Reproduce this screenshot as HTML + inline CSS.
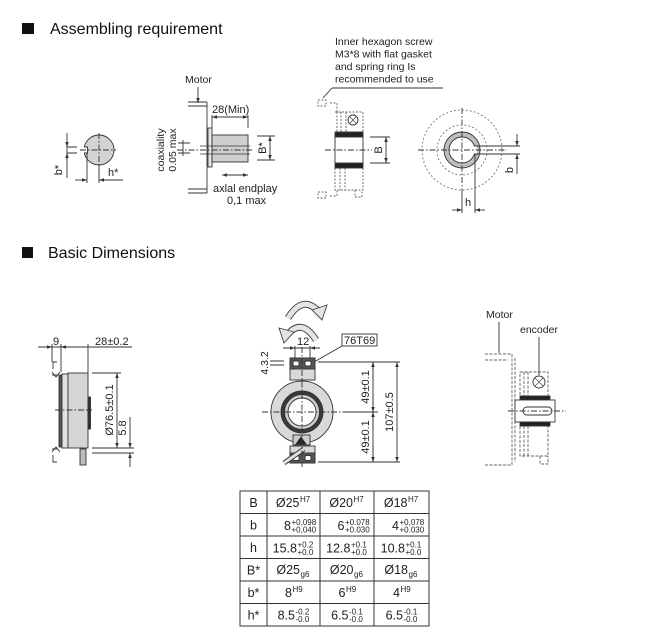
<!DOCTYPE html>
<html><head><meta charset="utf-8"><style>
html,body{margin:0;padding:0;background:#fff;}
svg{display:block;}
text{font-family:"Liberation Sans",Arial,sans-serif;fill:#222;}
</style></head><body>
<svg width="650" height="633" viewBox="0 0 650 633" xmlns="http://www.w3.org/2000/svg">
<defs>
<marker id="ar" viewBox="0 0 10 10" refX="10" refY="5" markerWidth="5" markerHeight="5" orient="auto-start-reverse" markerUnits="userSpaceOnUse"><path d="M0,1.5 L10,5 L0,8.5z" fill="#333"/></marker>
</defs>

<!-- Titles -->
<rect x="22" y="23" width="12" height="11" fill="#111"/>
<text x="50" y="34" font-size="16" style="fill:#111">Assembling requirement</text>
<rect x="22" y="247" width="11" height="11" fill="#111"/>
<text x="48" y="258" font-size="16" style="fill:#111">Basic Dimensions</text>

<g stroke="#333" stroke-width="0.9" fill="none">
<!-- ===== Section 1 left: shaft cross-section ===== -->
<circle cx="99" cy="150" r="15" fill="#d3d3d3"/>
<rect x="83.5" y="147" width="4" height="6" fill="#fff" stroke="none"/>
<path d="M84 147 H87.5 V153 H84"/>
<path d="M80 150 H116" stroke-dasharray="6 2 1.5 2"/>
<path d="M99 133 V181" stroke-dasharray="6 2 1.5 2"/>
<path d="M67 133 V178"/>
<path d="M67 147 H77 M67 153 H77"/>
<path d="M67 140 V147" marker-end="url(#ar)"/>
<path d="M67 160 V153" marker-end="url(#ar)"/>
<path d="M87 153 V183 M99 165 V183"/>
<path d="M75 180 H87" marker-end="url(#ar)"/>
<path d="M123 180 H99" marker-end="url(#ar)"/>

<!-- ===== Section 1 middle: motor + shaft ===== -->
<path d="M198 87 V103" marker-end="url(#ar)"/>
<path d="M188 102 H207 M188 106 H207 M207 102 V193 M188 189 H207 M188 193 H207"/>
<rect x="208" y="128" width="4" height="39" fill="#e8e8e8"/>
<rect x="212" y="135" width="36" height="27" fill="#cfcfcf"/>
<path d="M200 146 H250 M200 154 H250" stroke-width="0.7"/>
<path d="M177 150 H252" stroke-dasharray="6 2 1.5 2"/>
<path d="M178 143 H190 M178 153 H190 M183 140 V156"/>
<path d="M212 115 V128 M248 115 V128"/>
<path d="M212 117 H248" marker-start="url(#ar)" marker-end="url(#ar)"/>
<path d="M257 136 H275 M257 160 H275"/>
<path d="M270 136 V160" marker-start="url(#ar)" marker-end="url(#ar)"/>
<path d="M222 175 H248" marker-start="url(#ar)" marker-end="url(#ar)"/>

<!-- ===== Section 1 right: side view ===== -->
<path d="M332 88 H443 M332 88 L323 98"/>
<g stroke-dasharray="2 1.5" stroke-width="0.7">
<path d="M335 112 H363 V132 M337 112 V132 M341 112 V132 M346 112 V132"/>
<path d="M335 168 V190 H363 V168 M340 168 V190 M345 168 V190"/>
<path d="M330 103 H337 V112 M318 100 H326 V106 H318z"/>
<path d="M330 196 H337 V190 M318 192 H326 V198 H318z"/>
<path d="M355 190 V197 H362 V190"/>
</g>
<circle cx="353" cy="120" r="5"/>
<path d="M350 117 L356 123 M356 117 L350 123" stroke-width="0.6"/>
<rect x="335" y="132" width="28" height="5" fill="#222"/>
<rect x="335" y="163" width="28" height="5" fill="#222"/>
<path d="M335 137 V163 M363 137 V163"/>
<path d="M325 150 H372" stroke-dasharray="6 2 1.5 2"/>
<path d="M370 137 H390 M370 163 H390"/>
<path d="M386 137 V163" marker-start="url(#ar)" marker-end="url(#ar)"/>

<!-- front view hollow -->
<circle cx="462" cy="150" r="40" stroke="#777" stroke-dasharray="2 2"/>
<circle cx="462" cy="150" r="25" stroke="#777" stroke-dasharray="2 2"/>
<circle cx="462" cy="150" r="15.5" stroke="#bdbdbd" stroke-width="5"/>
<circle cx="462" cy="150" r="18"/>
<circle cx="462" cy="150" r="13"/>
<rect x="473" y="146" width="4" height="8" fill="#fff" stroke="none"/>
<path d="M474 146 H520 M474 154 H520"/>
<path d="M418 150 H507 M462 108 V193" stroke-dasharray="6 2 1.5 2"/>
<path d="M517 134 V146" marker-end="url(#ar)"/>
<path d="M517 174 V154" marker-end="url(#ar)"/>
<path d="M475 154 V213 M462 193 V213"/>
<path d="M452 210 H462" marker-end="url(#ar)"/>
<path d="M485 210 H475" marker-end="url(#ar)"/>

<!-- ===== Section 2 left: side view ===== -->
<path d="M38 347 H132"/>
<path d="M44 347 H52" marker-end="url(#ar)"/>
<path d="M70 347 H61" marker-end="url(#ar)"/>
<path d="M52 344 V362 M61 344 V372 M88 344 V373"/>
<rect x="59" y="375" width="3" height="72" fill="#555"/>
<rect x="62" y="374" width="6" height="74" fill="#e2e2e2"/>
<rect x="68" y="373" width="20" height="75" fill="#d5d5d5"/>
<rect x="88" y="397" width="2.5" height="32" fill="#333"/>
<path d="M57 362 H53 V369 M52 372 L56 377 L60 372 M52 375 H58"/>
<path d="M57 462 H53 V455 M52 452 L56 447 L60 452 M52 449 H58"/>
<path d="M55 410 H92" stroke-dasharray="6 2 1.5 2"/>
<rect x="80" y="449" width="6" height="16" fill="#bbb"/>
<path d="M92 373 H121 M92 448 H134 M92 453 H134"/>
<path d="M117 373 V448" marker-start="url(#ar)" marker-end="url(#ar)"/>
<path d="M130 417 V448" marker-end="url(#ar)"/>
<path d="M130 467 V453" marker-end="url(#ar)"/>

<!-- ===== Section 2 middle: encoder front ===== -->
<path d="M288 318 Q303 294 319 312" stroke="#444" stroke-width="7"/>
<path d="M288 318 Q303 294 319 312" stroke="#e4e4e4" stroke-width="5"/>
<path d="M312 310 L327 305 L322 320z" fill="#e4e4e4" stroke="#444"/>
<path d="M316 340 Q302 318 288 334" stroke="#444" stroke-width="7"/>
<path d="M316 340 Q302 318 288 334" stroke="#e4e4e4" stroke-width="5"/>
<path d="M294 332 L279 328 L284 343z" fill="#e4e4e4" stroke="#444"/>

<rect x="342" y="334" width="35" height="12" fill="#fff"/>
<path d="M342 346 L314 362"/>
<path d="M283 348 H320"/>
<path d="M283 348 H295" marker-end="url(#ar)"/>
<path d="M320 348 H310" marker-end="url(#ar)"/>
<path d="M295 346 V358 M310 346 V358"/>
<path d="M270 361 H284 M270 365 H284"/>

<rect x="290" y="358" width="25" height="22" fill="#d9d9d9"/>
<rect x="290" y="358" width="25" height="11" fill="#555"/>
<rect x="293" y="361" width="6" height="5" rx="1.5" fill="#fff"/>
<rect x="305" y="361" width="6" height="5" rx="1.5" fill="#fff"/>
<rect x="290" y="446" width="25" height="17" fill="#d9d9d9"/>
<rect x="290" y="453" width="25" height="10" fill="#555"/>
<rect x="293" y="455.5" width="6" height="5" rx="1.5" fill="#fff"/>
<rect x="305" y="455.5" width="6" height="5" rx="1.5" fill="#fff"/>
<circle cx="302" cy="412" r="31" fill="#d9d9d9"/>
<circle cx="302" cy="412" r="21" fill="#3a3a3a"/>
<circle cx="302" cy="412" r="17.5" fill="#cfcfcf"/>
<circle cx="302" cy="412" r="14" fill="#fff"/>
<rect x="293" y="435" width="17" height="10" fill="#ccc"/>
<path d="M296 444 L301 437 L306 444z" fill="#222"/>
<path d="M284 463 L304 449" stroke="#333" stroke-width="5"/>
<path d="M284 463 L304 449" stroke="#ddd" stroke-width="3"/>
<path d="M262 412 H345 M302 347 V467" stroke-dasharray="6 2 1.5 2"/>
<path d="M345 412 H378 M318 362 H400 M318 462 H400"/>
<path d="M373 362 V412 M373 412 V462"/>
<path d="M373 380 V362" marker-end="url(#ar)"/>
<path d="M373 395 V412" marker-end="url(#ar)"/>
<path d="M373 430 V412" marker-end="url(#ar)"/>
<path d="M373 445 V462" marker-end="url(#ar)"/>
<path d="M397 362 V462" marker-start="url(#ar)" marker-end="url(#ar)"/>

<!-- ===== Section 2 right: mounted view ===== -->
<path d="M499 322 V353 M539 337 V375"/>
<g stroke-dasharray="3 1.5" stroke-width="0.7">
<path d="M485 354 H512 V465 H485"/>
<path d="M485 360 H508"/>
<path d="M515 358 V462"/>
<rect x="520" y="372" width="28" height="24"/>
<rect x="520" y="426" width="28" height="30"/>
<path d="M524 372 V396 M528 372 V396 M524 426 V456 M528 426 V456"/>
<path d="M540 456 V464 H548 V456"/>
</g>
<circle cx="539" cy="382" r="6"/>
<path d="M535 378 L543 386 M543 378 L535 386" stroke-width="0.6"/>
<rect x="520" y="396" width="30" height="4" fill="#222"/>
<rect x="515" y="400" width="40" height="22" fill="#fff"/>
<rect x="523" y="407" width="29" height="8" rx="4" fill="#fff"/>
<rect x="520" y="422" width="30" height="4" fill="#222"/>
<path d="M508 411 H566" stroke-dasharray="6 2 1.5 2"/>

<!-- ===== Table ===== -->
<rect x="240" y="491" width="189" height="135" stroke-width="1"/>
<path d="M267 491 V626 M320 491 V626 M374 491 V626" stroke-width="1"/>
<path d="M240 513.5 H429 M240 536 H429 M240 558.5 H429 M240 581 H429 M240 603.5 H429" stroke-width="1"/>
</g>

<!-- Section 1 labels -->
<text x="62" y="170" font-size="11" transform="rotate(-90 62 170)" text-anchor="middle">b*</text>
<text x="108" y="176" font-size="11">h*</text>
<text x="185" y="83" font-size="10.5">Motor</text>
<text x="212" y="113" font-size="11">28(Min)</text>
<text x="266" y="148" font-size="11" transform="rotate(-90 266 148)" text-anchor="middle">B*</text>
<text x="164" y="150" font-size="10.5" transform="rotate(-90 164 150)" text-anchor="middle">coaxiality</text>
<text x="176" y="150" font-size="10.5" transform="rotate(-90 176 150)" text-anchor="middle">0.05 max</text>
<text x="213" y="192" font-size="11">axlal endplay</text>
<text x="227" y="204" font-size="11">0,1 max</text>
<text x="335" y="45" font-size="10.5">Inner hexagon screw</text>
<text x="335" y="57.5" font-size="10.5">M3*8 with flat gasket</text>
<text x="335" y="70" font-size="10.5">and spring ring Is</text>
<text x="335" y="82.5" font-size="10.5">recommended to use</text>
<text x="382" y="150" font-size="11" transform="rotate(-90 382 150)" text-anchor="middle">B</text>
<text x="513" y="170" font-size="11" transform="rotate(-90 513 170)" text-anchor="middle">b</text>
<text x="465" y="206" font-size="11">h</text>

<!-- Section 2 labels -->
<text x="53" y="345" font-size="11">9</text>
<text x="95" y="345" font-size="11">28±0.2</text>
<text x="113" y="410" font-size="11" transform="rotate(-90 113 410)" text-anchor="middle">Ø76.5±0.1</text>
<text x="126" y="428" font-size="11" transform="rotate(-90 126 428)" text-anchor="middle">5.8</text>
<text x="344" y="344" font-size="11">76T69</text>
<text x="297" y="345" font-size="11">12</text>
<text x="268" y="363" font-size="10.5" transform="rotate(-90 268 363)" text-anchor="middle">4.3.2</text>
<text x="369" y="387" font-size="11" transform="rotate(-90 369 387)" text-anchor="middle">49±0.1</text>
<text x="369" y="437" font-size="11" transform="rotate(-90 369 437)" text-anchor="middle">49±0.1</text>
<text x="393" y="412" font-size="11" transform="rotate(-90 393 412)" text-anchor="middle">107±0.5</text>
<text x="486" y="318" font-size="10.5">Motor</text>
<text x="520" y="333" font-size="10.5">encoder</text>

<!-- Table text -->
<g font-size="12.5">
<text x="253.5" y="507" text-anchor="middle">B</text>
<text x="253.5" y="529.5" text-anchor="middle">b</text>
<text x="253.5" y="552" text-anchor="middle">h</text>
<text x="253.5" y="574.5" text-anchor="middle">B*</text>
<text x="253.5" y="597" text-anchor="middle">b*</text>
<text x="253.5" y="619.5" text-anchor="middle">h*</text>

<!-- Row B -->
<text x="299.5" y="507" text-anchor="end">Ø25</text><text x="300" y="502" font-size="8">H7</text>
<text x="353" y="507" text-anchor="end">Ø20</text><text x="353.5" y="502" font-size="8">H7</text>
<text x="407.5" y="507" text-anchor="end">Ø18</text><text x="408" y="502" font-size="8">H7</text>

<!-- Row b -->
<text x="291" y="530" text-anchor="end">8</text><text x="291.5" y="525" font-size="8">+0,098</text><text x="291.5" y="532.5" font-size="8">+0,040</text>
<text x="344.5" y="530" text-anchor="end">6</text><text x="345" y="525" font-size="8">+0.078</text><text x="345" y="532.5" font-size="8">+0.030</text>
<text x="399" y="530" text-anchor="end">4</text><text x="399.5" y="525" font-size="8">+0,078</text><text x="399.5" y="532.5" font-size="8">+0.030</text>

<!-- Row h -->
<text x="297" y="552.5" text-anchor="end">15.8</text><text x="297.5" y="547.5" font-size="8">+0.2</text><text x="297.5" y="555" font-size="8">+0.0</text>
<text x="350.5" y="552.5" text-anchor="end">12.8</text><text x="351" y="547.5" font-size="8">+0.1</text><text x="351" y="555" font-size="8">+0.0</text>
<text x="405" y="552.5" text-anchor="end">10.8</text><text x="405.5" y="547.5" font-size="8">+0.1</text><text x="405.5" y="555" font-size="8">+0.0</text>

<!-- Row B* -->
<text x="300" y="574" text-anchor="end">Ø25</text><text x="300.5" y="577" font-size="8">g6</text>
<text x="353.5" y="574" text-anchor="end">Ø20</text><text x="354" y="577" font-size="8">g6</text>
<text x="408" y="574" text-anchor="end">Ø18</text><text x="408.5" y="577" font-size="8">g6</text>

<!-- Row b* -->
<text x="292" y="597" text-anchor="end">8</text><text x="292.5" y="592" font-size="8">H9</text>
<text x="345.5" y="597" text-anchor="end">6</text><text x="346" y="592" font-size="8">H9</text>
<text x="400" y="597" text-anchor="end">4</text><text x="400.5" y="592" font-size="8">H9</text>

<!-- Row h* -->
<text x="295" y="619.5" text-anchor="end">8.5</text><text x="295.5" y="614.5" font-size="8">-0.2</text><text x="295.5" y="622" font-size="8">-0.0</text>
<text x="348.5" y="619.5" text-anchor="end">6.5</text><text x="349" y="614.5" font-size="8">-0.1</text><text x="349" y="622" font-size="8">-0.0</text>
<text x="403" y="619.5" text-anchor="end">6.5</text><text x="403.5" y="614.5" font-size="8">-0.1</text><text x="403.5" y="622" font-size="8">-0.0</text>
</g>
</svg>
</body></html>
